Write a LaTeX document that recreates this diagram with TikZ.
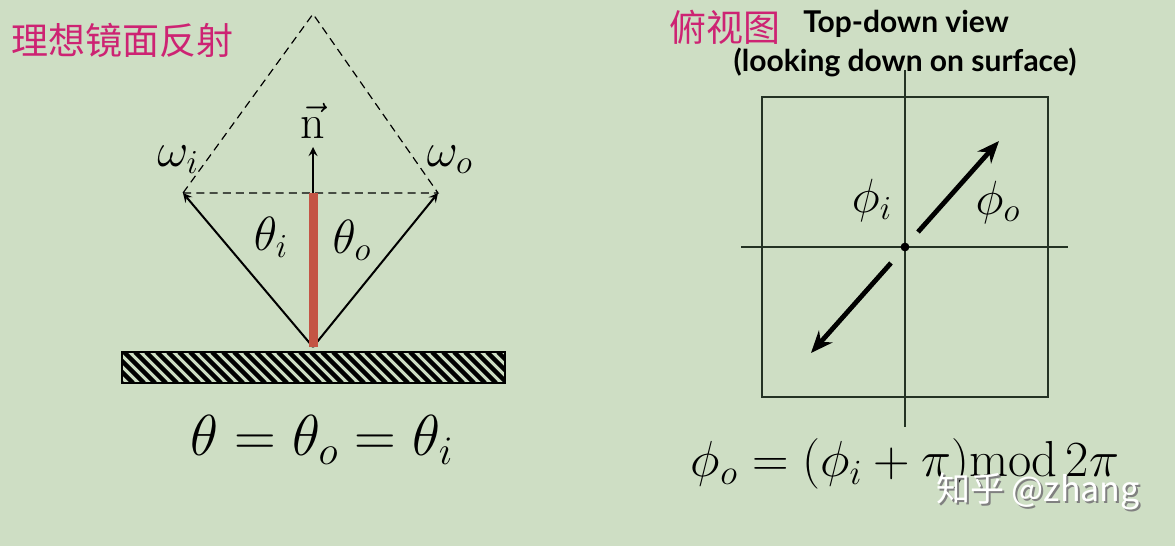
\RequirePackage{fix-cm}
\documentclass[tikz,border=0pt]{standalone}
\usepackage{fontspec}
\usepackage{amsmath}
\usetikzlibrary{arrows.meta}
\newfontfamily\cjk{Noto Sans CJK SC}
\newfontfamily\captionfont{Lato}
\definecolor{bg}{RGB}{206,222,196}
\definecolor{titlepink}{RGB}{205,35,115}
\definecolor{normalred}{RGB}{196,84,68}
\definecolor{axisgray}{RGB}{35,50,35}
\tikzset{
  mathlbl/.style={font=\fontsize{24}{28}\selectfont},
  bigeq/.style={font=\fontsize{25.3}{30}\selectfont},
  cjktitle/.style={text=titlepink,font=\cjk\fontsize{18.5}{22}\selectfont},
  viewlbl/.style={font=\captionfont\bfseries\fontsize{15}{18}\selectfont},
  guide/.style={dashed,dash pattern=on 4pt off 2.6pt,line width=0.6pt},
  ray/.style={->,line width=1pt},
  bigray/.style={-{Stealth[length=11pt,width=9pt]},line width=2.4pt},
  axis/.style={axisgray,line width=0.75pt}
}
\begin{document}
\begin{tikzpicture}[x=0.5pt,y=-0.5pt,>=stealth]
\fill[bg](0,0)rectangle(1175,546);

% ideal specular reflection
\node[cjktitle,anchor=west](t1)at(4,40){理想镜面反射};
\coordinate(O)at(313,347);
\coordinate(wi)at(183,193);
\coordinate(wo)at(438,193);
\coordinate(apex)at(313,14);
\coordinate(nb)at(313,193);
\coordinate(nt)at(313,147);
\draw[guide](wi)--(apex)--(wo)--cycle;
\draw[ray](O)--(wi);
\draw[ray](O)--(wo);
\draw[ray](nb)--(nt);
\draw[normalred,line width=4.5pt](O)--(nb);
\node[mathlbl](n)at(313,121){$\vec{\mathrm{n}}$};
\node[mathlbl](wil)at(178,160){$\omega_i$};
\node[mathlbl](wol)at(450,160){$\omega_o$};
\node[mathlbl](thi)at(271,237){$\theta_i$};
\node[mathlbl](tho)at(352,240){$\theta_o$};

\begin{scope}
\clip(122,352)rectangle(505,383);
\foreach \x in {80,91,...,510}
  \draw[line width=2.2pt](\x,352)--(\x+31,383);
\end{scope}
\draw[line width=0.8pt](122,352)rectangle(505,383);
\node[font=\fontsize{28.9}{34}\selectfont](eq1)at(322,440){$\theta=\theta_o=\theta_i$};

% top-down view
\node[cjktitle,anchor=west](t2)at(662,27){俯视图};
\node[viewlbl](tv)at(906,24){Top-down view};
\node[viewlbl](tv2)at(905,62){(looking down on surface)};
\draw[axis](762,97)rectangle(1048,397);
\coordinate(c)at(905,247);
\coordinate(ya)at(905,70);
\coordinate(yb)at(905,427);
\coordinate(xa)at(741,247);
\coordinate(xb)at(1068,247);
\draw[axis](ya)--(yb);
\draw[axis](xa)--(xb);
\fill(c)circle(2.2pt);
\coordinate(po1)at(918,232);
\coordinate(po2)at(999,141);
\coordinate(pi1)at(891,263);
\coordinate(pi2)at(811,353);
\draw[bigray](po1)--(po2);
\draw[bigray](pi1)--(pi2);
\node[mathlbl](phii)at(872,200){$\phi_i$};
\node[mathlbl](phio)at(998,202){$\phi_o$};
\node[bigeq](eq2)at(905,464){$\phi_o=(\phi_i+\pi)\mathrm{mod}\,2\pi$};

\node[text=gray,font=\cjk\fontsize{17}{20}\selectfont](wm0)at(1040,493){知乎 @zhang};
\node[text=white,font=\cjk\fontsize{17}{20}\selectfont](wm)at(1038,491){知乎 @zhang};
\end{tikzpicture}
\end{document}
